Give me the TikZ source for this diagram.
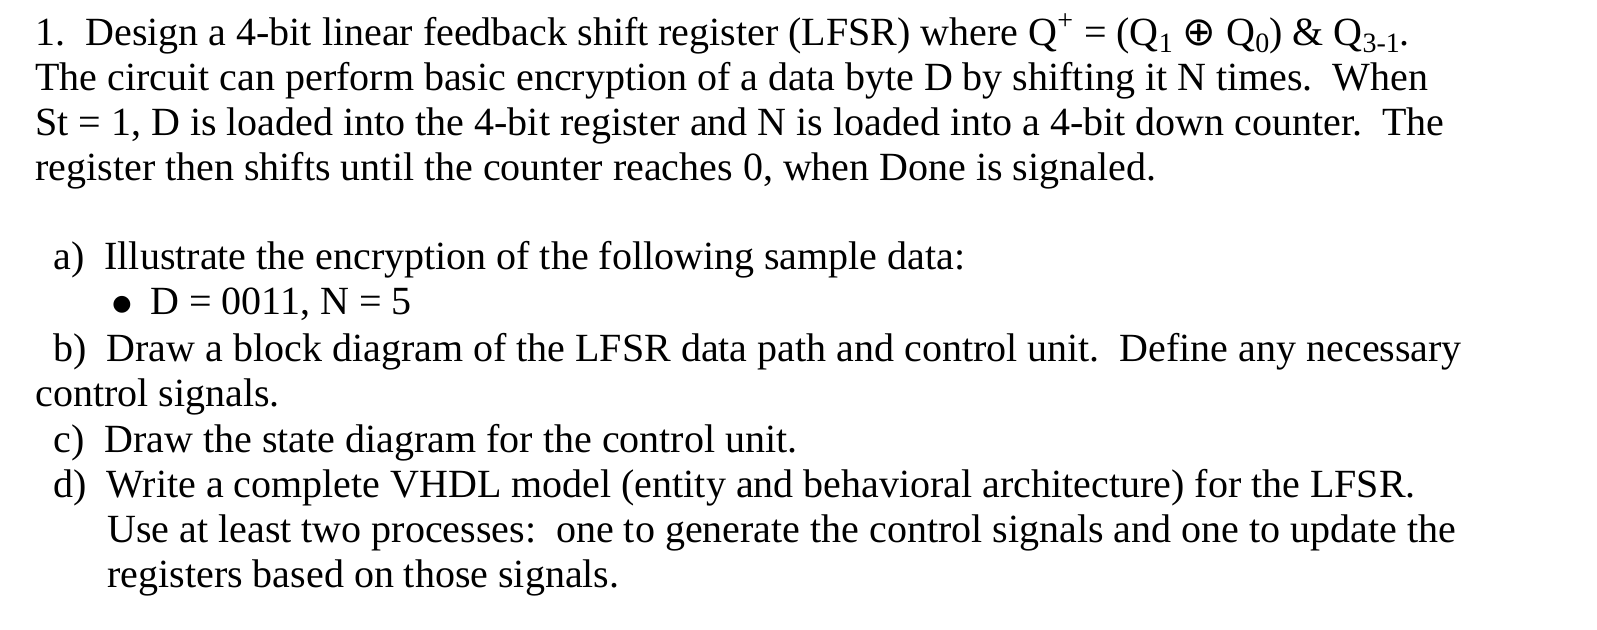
\documentclass[tikz,border=0pt]{standalone}
\usepackage{fontspec}
\setmainfont{Liberation Serif}
\newfontfamily\dvfont{DejaVu Sans}
\newcommand{\sbq}[1]{\raisebox{-0.18em}{\fontsize{14}{14}\selectfont #1}}
\begin{document}
\begin{tikzpicture}[x=0.5pt,y=-0.5pt,
  ln/.style={anchor=base west,inner sep=0pt,font=\fontsize{20}{23}\selectfont}]
\useasboundingbox (0,0) rectangle (1597,629);
\node[ln] (l1) at (35,45) {1.\ \ Design a 4-bit linear feedback shift register (LFSR) where Q\textsuperscript{+} = (Q\sbq{1} {\dvfont\fontsize{20}{20}\selectfont ⊕} Q\sbq{0}) \& Q\sbq{3-1}.};
\node[ln] (l2) at (35,90) {The circuit can perform basic encryption of a data byte D by shifting it N times.\ \ When};
\node[ln] (l3) at (35,135) {St = 1, D is loaded into the 4-bit register and N is loaded into a 4-bit down counter.\ \ The};
\node[ln] (l4) at (35,180) {register then shifts until the counter reaches 0, when Done is signaled.};
\node[ln] (a) at (53,269) {a)\ \ Illustrate the encryption of the following sample data:};
\node[ln] (bul) at (112,310) {{\dvfont\fontsize{11}{11}\selectfont ●}};
\node[ln] (d1) at (150,314) {D = 0011, N = 5};
\node[ln] (b) at (53,361) {b)\ \ Draw a block diagram of the LFSR data path and control unit.\ \ Define any necessary};
\node[ln] (b2) at (35,406) {control signals.};
\node[ln] (c) at (53,452) {c)\ \ Draw the state diagram for the control unit.};
\node[ln] (d) at (53,497) {d)\ \ Write a complete VHDL model (entity and behavioral architecture) for the LFSR.};
\node[ln] (d2) at (107,542) {Use at least two processes:\ \ one to generate the control signals and one to update the};
\node[ln] (d3) at (107,587) {registers based on those signals.};
\end{tikzpicture}
\end{document}
